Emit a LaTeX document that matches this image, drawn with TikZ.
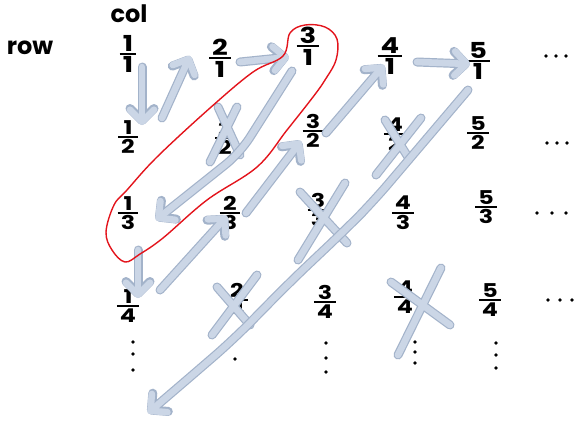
\documentclass[tikz,border=0pt]{standalone}
\usepackage{fontspec}
\setmainfont{Poppins}
\usepackage{amsmath}
\usepackage{graphicx}
\usetikzlibrary{arrows.meta,calc}
\definecolor{strokeedge}{HTML}{A3B3CA}
\definecolor{strokefill}{HTML}{CBD6E6}
\definecolor{loopred}{HTML}{E3141C}
\newcommand\fr[2]{\scalebox{1.25}[1]{$\genfrac{}{}{1.8pt}{1}{\hbox{\hspace{2.5pt}#1\hspace{2.5pt}}}{\hbox{\hspace{2.5pt}#2\hspace{2.5pt}}}$}}
\newcommand\hstroke[2][]{\draw[hs edge,#1] #2; \draw[hs fill,#1] #2;}
\tikzset{
  hs edge/.style={line width=9pt, color=strokeedge, line cap=round, line join=round},
  hs fill/.style={line width=6.6pt, color=strokefill, line cap=round, line join=round},
  tip/.style={-{Straight Barb[length=12pt 0 0, width=24pt 0 0, round]}},
  frA/.style={inner sep=0pt, font=\fontsize{22}{24}\selectfont\bfseries},
  frB/.style={inner sep=0pt, font=\fontsize{19}{21}\selectfont\bfseries},
  lbl/.style={inner sep=0pt, font=\fontsize{24}{26}\selectfont\bfseries},
  dot/.style={fill=black, draw=none},
  loop/.style={draw=loopred, line width=1.4pt}
}
\begin{document}
\begin{tikzpicture}[x=1pt, y=-1pt]
\useasboundingbox (0,0) rectangle (577,429);
% labels
\node[lbl] (col) at (129,14) {col};
\node[lbl] (row) at (30,48) {row};
% fractions
\node[frA] (f11) at (128,54) {\fr{1}{1}};
\node[frA] (f21) at (220,58) {\fr{2}{1}};
\node[frA] (f31) at (308,46) {\fr{3}{1}};
\node[frA] (f41) at (390,56) {\fr{4}{1}};
\node[frA] (f51) at (478,61) {\fr{5}{1}};
\node[frB] (f12) at (128,137) {\fr{1}{2}};
\node[frB] (f22) at (225,138) {\fr{2}{2}};
\node[frB] (f32) at (313,131) {\fr{3}{2}};
\node[frB] (f42) at (395,134) {\fr{4}{2}};
\node[frB] (f52) at (478,133) {\fr{5}{2}};
\node[frB] (f13) at (128,213) {\fr{1}{3}};
\node[frB] (f23) at (230,213) {\fr{2}{3}};
\node[frB] (f33) at (318,210) {\fr{3}{3}};
\node[frB] (f43) at (403,213) {\fr{4}{3}};
\node[frB] (f53) at (486,207) {\fr{5}{3}};
\node[frB] (f14) at (128,306) {\fr{1}{4}};
\node[frB] (f24) at (237,300) {\fr{2}{4}};
\node[frB] (f34) at (325,302) {\fr{3}{4}};
\node[frB] (f44) at (405,297) {\fr{4}{4}};
\node[frB] (f54) at (490,300) {\fr{5}{4}};
% dots
\foreach \x/\y in {133/342,133/354,133/370, 235/337,235/359, 326/343,326/358,326/372,
                   415/342,415/352,415/363, 496/343,496/355,496/368,
                   546/56,556/56,566/56, 547/143,557/143,567/143,
                   537/213,552/213,566/213, 548/300,560/300,572/300}
  \fill[dot] (\x,\y) circle (1.9pt);
% crosses
\hstroke{(218,107) -- (240,155) (237,107) -- (210,162)}
\hstroke{(385,120) -- (408,157) (421,118) -- (376,175)}
\hstroke{(300,192) -- (347,243) (345,183) -- (298,260)}
\hstroke{(217,287) -- (250,325) (257,275) -- (212,335)}
\hstroke{(391,282) -- (450,325) (441,268) -- (398,355)}
% enumeration arrows
\hstroke[tip]{($(f11)+(14,13)$) -- ($(f12)+(14,-12)$)}
\hstroke[tip]{($(f12)+(34,-19)$) -- ($(f21)+(-30,-2)$)}
\hstroke[tip]{($(f21)+(20,4)$) -- ($(f31)+(-19,11)$)}
\hstroke[tip, rounded corners=18pt]{($(f31)+(-16,25)$) -- (240,153) -- ($(f13)+(28,7)$)}
\hstroke[tip]{($(f13)+(10,37)$) -- ($(f14)+(10,-8)$)}
\hstroke[tip]{($(f14)+(32,-16)$) -- ($(f23)+(-3,3)$)}
\hstroke[tip]{($(f23)+(16,0)$) -- ($(f32)+(-12,10)$)}
\hstroke[tip]{($(f32)+(13,2)$) -- ($(f41)+(-6,9)$)}
\hstroke[tip]{($(f41)+(27,6)$) -- ($(f51)+(-8,3)$)}
\coordinate (tail) at (148,413);
\hstroke[tip, rounded corners=25pt]{($(f51)+(-10,29)$) -- (372,203) -- (345,230) -- (290,282) -- (233,340) -- (175,390) -- (tail)}
% red loop
\draw[loop] plot[smooth cycle, tension=0.6] coordinates {
 (283,56) (290,33) (305,25) (325,27) (337,39) (336,60) (325,80) (313,97)
 (287,130) (257,167) (207,200) (163,238) (140,254) (125,262) (112,250)
 (106,232) (114,205) (127,190) (157,157) (210,108) (253,72)};
\end{tikzpicture}
\end{document}
